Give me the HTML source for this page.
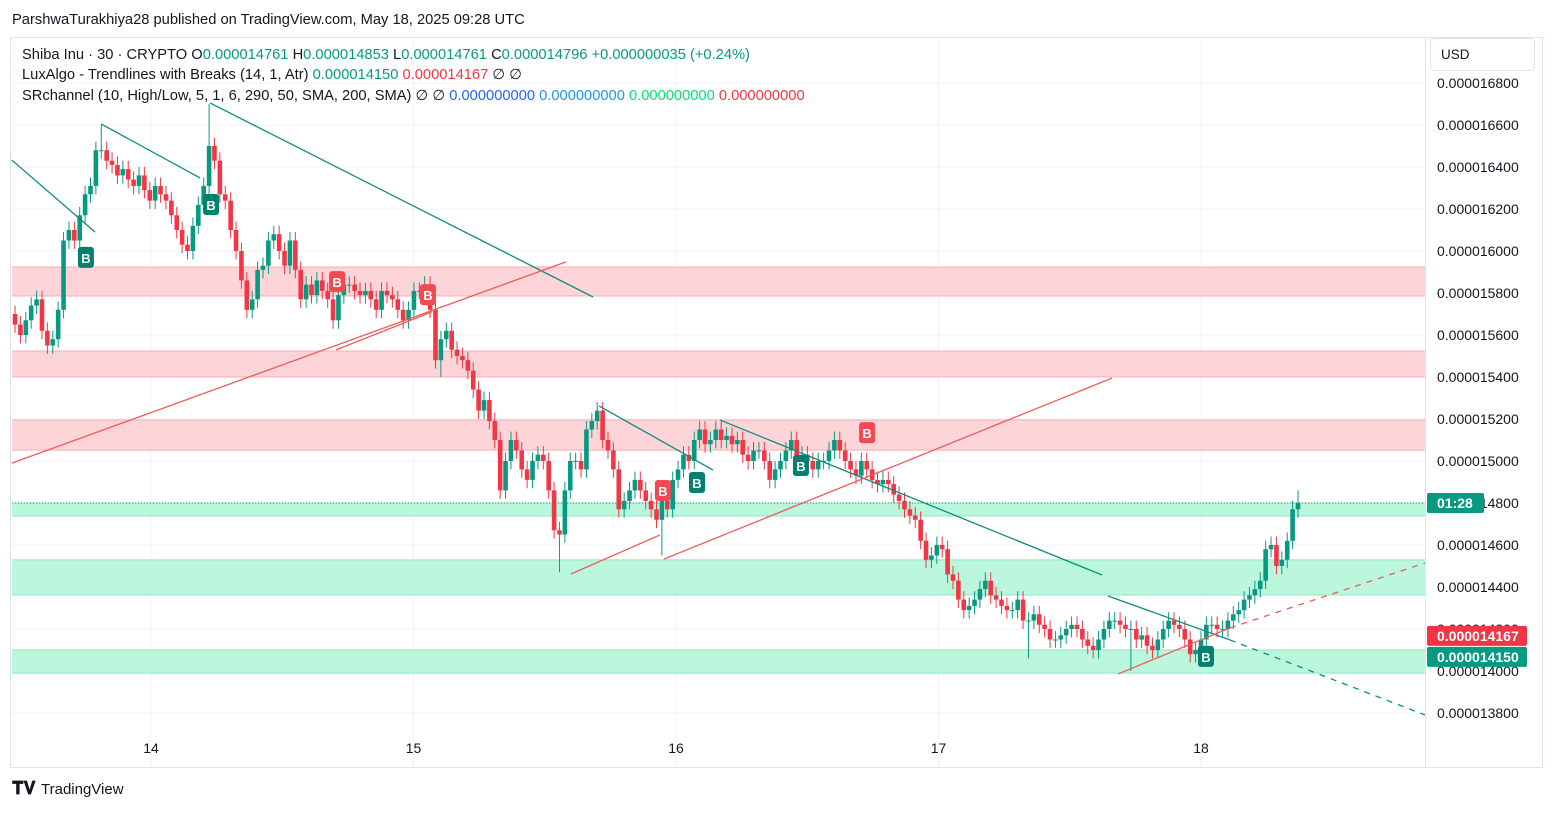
<!DOCTYPE html>
<html><head><meta charset="utf-8">
<style>
body{margin:0;background:#fff;font-family:"Liberation Sans",sans-serif;}
svg text{font-family:"Liberation Sans",sans-serif;}
</style></head>
<body>
<svg id="c" width="1554" height="810" xmlns="http://www.w3.org/2000/svg">
<rect x="0" y="0" width="1554" height="810" fill="#fff"/>
<text x="12" y="24" font-size="14.7" fill="#131722">ParshwaTurakhiya28 published on TradingView.com, May 18, 2025 09:28 UTC</text>
<rect x="10.5" y="37.5" width="1532" height="730" fill="none" stroke="#e0e3eb"/>
<g id="grid"></g><g id="zones"></g><g id="candles"></g><g id="lines"></g><g id="marks"></g>
<line x1="1425.5" y1="38" x2="1425.5" y2="767" stroke="#e0e3eb"/>
<g id="yaxis"></g><g id="xaxis"></g>
<g font-size="14.7">
<text x="22" y="59" fill="#131722">Shiba Inu · 30 · CRYPTO <tspan fill="#131722">O</tspan><tspan fill="#089981">0.000014761</tspan> <tspan fill="#131722">H</tspan><tspan fill="#089981">0.000014853</tspan> <tspan fill="#131722">L</tspan><tspan fill="#089981">0.000014761</tspan> <tspan fill="#131722">C</tspan><tspan fill="#089981">0.000014796 +0.000000035 (+0.24%)</tspan></text>
<text x="22" y="79" fill="#131722">LuxAlgo - Trendlines with Breaks (14, 1, Atr) <tspan fill="#089981">0.000014150</tspan> <tspan fill="#f23645">0.000014167</tspan> ∅ ∅</text>
<text x="22" y="100" fill="#131722">SRchannel (10, High/Low, 5, 1, 6, 290, 50, SMA, 200, SMA) ∅ ∅ <tspan fill="#2962ff">0.000000000</tspan> <tspan fill="#2196f3">0.000000000</tspan> <tspan fill="#00e676">0.000000000</tspan> <tspan fill="#f23645">0.000000000</tspan></text>
</g>
<g><rect x="1430.5" y="38.5" width="104" height="32" rx="4" fill="#fff" stroke="#e0e3eb"/><text x="1441" y="59" font-size="13.5" fill="#131722">USD</text></g>
<g><text x="12" y="794" font-size="18" font-weight="bold" fill="#131722">𝐓𝐕</text><text x="41" y="794" font-size="15" fill="#131722">TradingView</text></g>
</svg>
<script>
const closes=[15.65,15.60,15.67,15.74,15.77,15.62,15.55,15.58,15.72,
16.05,16.10,16.05,16.17,16.27,16.31,16.48,
16.48,16.43,16.41,16.36,16.39,16.34,16.31,16.36,16.29,16.24,
16.31,16.27,16.24,16.17,16.10,16.03,16.00,16.12,16.22,
16.31,16.50,16.43,16.27,16.24,16.10,
16.00,15.86,15.72,15.77,15.91,15.93,16.05,16.08,16.00,15.93,16.05,15.91,15.77,
15.84,15.79,15.86,15.81,15.77,15.67,15.79,15.84,
15.84,15.81,15.79,15.81,15.77,15.72,15.81,15.79,15.77,15.72,15.67,15.72,15.81,15.81,15.84,
15.72,15.48,15.58,15.62,15.53,15.50,15.48,15.43,15.34,15.24,15.29,
15.19,15.10,14.86,15.00,15.10,15.05,14.96,14.91,15.00,15.03,15.00,
14.86,14.67,14.65,14.86,15.00,15.00,14.96,15.15,15.19,15.24,15.10,
15.05,14.96,14.77,14.81,14.86,14.91,14.86,14.81,14.77,14.72,14.81,
14.77,14.91,14.96,15.03,15.00,15.10,15.15,15.08,15.10,15.15,15.10,
15.12,15.08,15.10,15.03,15.00,15.05,15.05,15.00,14.91,14.96,15.00,
15.05,15.10,15.00,15.03,15.00,14.96,15.00,15.00,15.05,15.10,15.05,15.00,14.96,14.93,15.00,
14.96,14.91,14.89,14.91,14.89,14.84,14.81,14.77,
14.74,14.72,14.62,14.53,14.55,14.60,14.58,14.46,14.43,14.34,14.29,
14.31,14.34,14.39,14.43,14.36,14.34,14.31,14.29,
14.29,14.34,14.24,14.24,14.27,14.22,14.20,14.15,14.15,14.17,14.20,
14.22,14.20,14.15,14.12,14.10,14.15,14.20,14.24,14.24,14.22,
14.20,14.20,14.15,14.17,14.12,14.10,14.15,14.20,14.24,14.22,14.20,
14.15,14.08,14.10,14.15,14.22,14.22,14.20,
14.20,14.24,14.27,14.29,14.34,14.36,14.39,14.43,14.58,
14.60,14.50,14.53,14.62,14.77,14.80];
const firstOpen=15.70;
const spikeIdx=[16,36,101,120,207,238,79,188];
const spikePrice=[16.60,16.70,14.47,14.55,14.00,14.86,15.40,14.06];
const startDay=13.482;
const endDay=18.3695;
const dayTicks=[14,15,16,17,18];
const priceTicks=[16.8,16.6,16.4,16.2,16.0,15.8,15.6,15.4,15.2,15.0,14.8,14.6,14.4,14.2,14.0,13.8];
const redZones=[[15.924,15.786],[15.524,15.400],[15.195,15.052]];
const greenZones=[[14.800,14.738],[14.529,14.362],[14.100,13.990]];
const greenLines=[[13.470,16.433,13.787,16.090],[13.810,16.605,14.187,16.348],[14.225,16.705,15.684,15.781],[15.707,15.262,16.141,14.957],[16.168,15.195,17.623,14.457],[17.646,14.357,18.110,14.148]];
const greenDash=[[18.110,14.148,18.853,13.791]];
const redLines=[[13.470,14.990,15.581,15.948],[14.705,15.529,15.070,15.710],[15.600,14.462,15.939,14.648],[15.954,14.533,17.661,15.395],[17.684,13.986,18.110,14.205]];
const redDash=[[18.110,14.205,18.853,14.514]];
const greenMarks=[[13.752,15.967],[14.229,16.219],[16.080,14.895],[16.476,14.976],[18.019,14.067]];
const redMarks=[[14.709,15.852],[15.055,15.790],[15.950,14.857],[16.728,15.133]];

const NS="http://www.w3.org/2000/svg";
const X=d=>1201+(d-18)*262.5;
const Y=p=>83+(16.8-p)*210;
const L=12,R=1425,T=38,B=767;
const step=(endDay-startDay)/(closes.length-1);
function el(tag,attrs,parent){const e=document.createElementNS(NS,tag);for(const k in attrs)e.setAttribute(k,attrs[k]);document.getElementById(parent).appendChild(e);return e;}
priceTicks.forEach(p=>{const g=el('line',{x1:L,x2:R,y1:Y(p),y2:Y(p),stroke:'#f0f3fa'},'grid');

});
dayTicks.forEach(d=>{const g=el('line',{x1:X(d),x2:X(d),y1:T,y2:B,stroke:'#f0f3fa'},'grid');

});
function zone(z,fill,stroke,name){const r=el('rect',{x:L,width:R-L,y:Y(z[0]),height:Y(z[1])-Y(z[0]),fill:fill},'zones');


el('line',{x1:L,x2:R,y1:Y(z[0]),y2:Y(z[0]),stroke:stroke},'zones');
el('line',{x1:L,x2:R,y1:Y(z[1]),y2:Y(z[1]),stroke:stroke},'zones');}
redZones.forEach(z=>zone(z,'#fdd4d7','#f8aeb3','resistance-zone'));
greenZones.forEach(z=>zone(z,'#bbf7dd','#8ee6bd','support-zone'));
let prev=firstOpen;
closes.forEach((c,i)=>{const o=prev;prev=c;const up=c>=o;const col=up?'#089981':'#f23645';
let hi=Math.max(o,c)+0.04,lo=Math.min(o,c)-0.04;
const k=spikeIdx.indexOf(i);if(k>=0){if(spikePrice[k]>Math.max(o,c))hi=spikePrice[k];else lo=spikePrice[k];}
const x=X(startDay+i*step);
const w=el('line',{x1:x,x2:x,y1:Y(hi),y2:Y(lo),stroke:col,'stroke-width':1},'candles');


const top=Y(Math.max(o,c)),h=Math.max(1,Y(Math.min(o,c))-top);
const b=el('rect',{x:x-2.3,y:top,width:4.6,height:h,fill:col},'candles');

});
function tl(a,col,dash,name){const l=el('line',{x1:X(a[0]),y1:Y(a[1]),x2:X(a[2]),y2:Y(a[3]),stroke:col,'stroke-width':1.3},'lines');
if(dash)l.setAttribute('stroke-dasharray','6 6');

}
greenLines.forEach(a=>tl(a,'#0a8f7a',false,'down-trendline'));
greenDash.forEach(a=>tl(a,'#0a8f7a',true,'down-trendline-ext'));
redLines.forEach(a=>tl(a,'#f05a5a',false,'up-trendline'));
redDash.forEach(a=>tl(a,'#f05a5a',true,'up-trendline-ext'));
const cp=closes[closes.length-1];
const dl=el('line',{x1:L,x2:R,y1:Y(cp),y2:Y(cp),stroke:'#089981','stroke-dasharray':'1 2'},'lines');


function mark(m,col,name){const x=X(m[0]),y=Y(m[1]);
const g=el('g',{},'marks');


const r=document.createElementNS(NS,'rect');r.setAttribute('x',x-8);r.setAttribute('y',y-11);r.setAttribute('width',16);r.setAttribute('height',21);r.setAttribute('rx',3);r.setAttribute('fill',col);g.appendChild(r);
const t=document.createElementNS(NS,'text');t.setAttribute('x',x);t.setAttribute('y',y+5);t.setAttribute('text-anchor','middle');t.setAttribute('font-size','13');t.setAttribute('font-weight','bold');t.setAttribute('fill','#fff');t.textContent='B';g.appendChild(t);}
greenMarks.forEach(m=>mark(m,'#00806e','bull-break-label'));
redMarks.forEach(m=>mark(m,'#f04a52','bear-break-label'));
priceTicks.forEach(p=>{const t=el('text',{x:1437,y:Y(p)+5,'font-size':'14',fill:'#131722'},'yaxis');


t.textContent=(p/1e6).toFixed(9);});
function tag(y,col,txt,name,w){const g=el('g',{},'yaxis');


const r=document.createElementNS(NS,'rect');r.setAttribute('x',1427);r.setAttribute('y',y-10);r.setAttribute('width',w);r.setAttribute('height',20);r.setAttribute('rx',2);r.setAttribute('fill',col);g.appendChild(r);
const t=document.createElementNS(NS,'text');t.setAttribute('x',1437);t.setAttribute('y',y+5);t.setAttribute('font-size','14');t.setAttribute('font-weight','bold');t.setAttribute('fill','#fff');t.textContent=txt;g.appendChild(t);}
tag(Y(cp),'#089981','01:28','countdown-tag',57);
tag(Y(14.167),'#f23645','0.000014167','resistance-price-tag',100);
tag(Y(14.167)+21,'#089981','0.000014150','support-price-tag',100);
dayTicks.forEach(d=>{const t=el('text',{x:X(d),y:753,'font-size':'14','text-anchor':'middle',fill:'#131722'},'xaxis');


t.textContent=String(d);});
</script>
</body></html>
